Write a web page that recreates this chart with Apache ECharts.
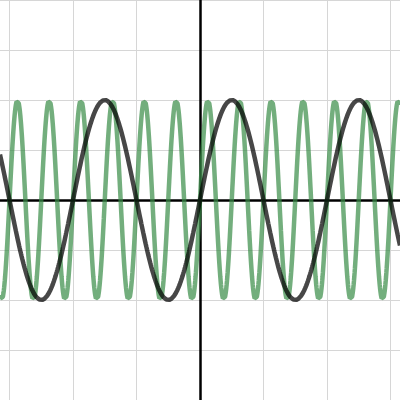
<!DOCTYPE html>
<html><head><meta charset="utf-8">
<script src="https://cdn.jsdelivr.net/npm/echarts@6/dist/echarts.min.js"></script>
<style>html,body{margin:0;padding:0;background:#fff}#c{width:400px;height:400px}</style>
</head><body><div id="c"></div>
<script>
// x in units of pi; curves: y = 2 sin(x), y = 2 sin(4x)
const xRange = [-3.15, 3.15];
const yRange = [-4, 4];
const amplitudes = [2, 2];
const frequencies = [1, 4];
const seriesNames = ['2 sin(x)', '2 sin(4x)'];
const seriesColors = ['rgba(0,0,0,0.72)', 'rgba(56,140,70,0.7)'];
const samples = [];
for (let i = 0; i <= 1260; i++) samples.push(xRange[0] + i * 0.005);
function curve(k) {
  return samples.map(u => [u, amplitudes[k] * Math.sin(frequencies[k] * u * Math.PI)]);
}
const chart = echarts.init(document.getElementById('c'));
chart.setOption({
  animation: false,
  grid: [
    {left: 0, right: 0, top: 0, bottom: 0},
    {left: 9.5, right: 9.5, top: 0, bottom: 0}
  ],
  xAxis: [
    {type: 'value', gridIndex: 0, min: xRange[0], max: xRange[1], show: true,
     axisLine: {onZero: true, lineStyle: {color: '#000', width: 2.5}}, axisTick: {show: false}, axisLabel: {show: false}, splitLine: {show: false}},
    {type: 'value', gridIndex: 1, min: -3, max: 3, interval: 1,
     axisLine: {show: false}, axisTick: {show: false}, axisLabel: {show: false},
     splitLine: {show: true, lineStyle: {color: '#d6d6d6', width: 1}}}
  ],
  yAxis: [
    {type: 'value', gridIndex: 0, min: yRange[0], max: yRange[1], interval: 1,
     axisLine: {onZero: true, lineStyle: {color: '#000', width: 2.5}}, axisTick: {show: false}, axisLabel: {show: false},
     splitLine: {show: true, lineStyle: {color: '#d6d6d6', width: 1}}},
    {type: 'value', gridIndex: 1, min: yRange[0], max: yRange[1], show: false, splitLine: {show: false}}
  ],
  series: [
    {name: seriesNames[1], type: 'line', xAxisIndex: 0, yAxisIndex: 0, data: curve(1), showSymbol: false, z: 3,
     lineStyle: {color: seriesColors[1], width: 4.5}},
    {name: seriesNames[0], type: 'line', xAxisIndex: 0, yAxisIndex: 0, data: curve(0), showSymbol: false, z: 4,
     lineStyle: {color: seriesColors[0], width: 4.5}},
    {type: 'line', xAxisIndex: 1, yAxisIndex: 1, data: []}
  ]
});
</script></body></html>
